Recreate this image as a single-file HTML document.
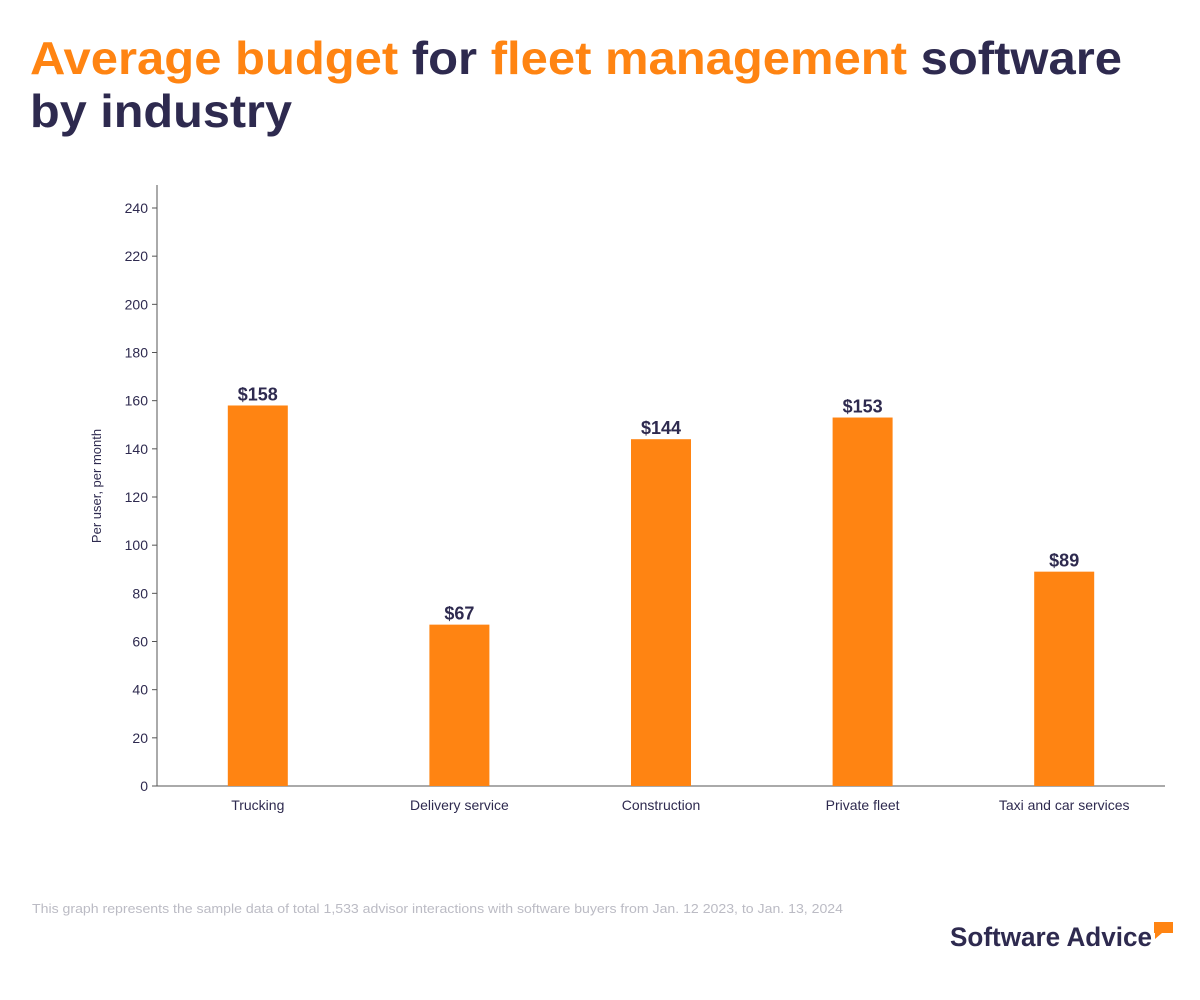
<!DOCTYPE html>
<html><head><meta charset="utf-8"><style>
body{margin:0;background:#fff;}
svg{display:block;font-family:"Liberation Sans",sans-serif;}
</style></head><body>
<svg id="chart" width="1200" height="1000" viewBox="0 0 1200 1000">
<text x="30" y="74" font-size="46" font-weight="bold" textLength="1092" lengthAdjust="spacingAndGlyphs"><tspan fill="#FF8412">Average budget</tspan><tspan fill="#2E2A4F"> for </tspan><tspan fill="#FF8412">fleet management</tspan><tspan fill="#2E2A4F"> software</tspan></text>
<text x="30" y="127" font-size="46" font-weight="bold" fill="#2E2A4F" textLength="262" lengthAdjust="spacingAndGlyphs">by industry</text>
<g id="axes"></g>
<g id="bars"></g>
<text transform="translate(101,486) rotate(-90)" text-anchor="middle" font-size="13" fill="#2E2A4F">Per user, per month</text>
<text x="32" y="913" font-size="12.5" fill="#BBBBC4" textLength="811" lengthAdjust="spacingAndGlyphs">This graph represents the sample data of total 1,533 advisor interactions with software buyers from Jan. 12 2023, to Jan. 13, 2024</text>
<text x="950" y="946" font-size="27" font-weight="bold" fill="#2E2A4F" textLength="202" lengthAdjust="spacingAndGlyphs">Software Advice</text>
<path d="M1154,922 h19 v11 h-11 l-7,6 v-6 h-1 z" fill="#FF8412"/>
</svg>
<script>
const categories=["Trucking","Delivery service","Construction","Private fleet","Taxi and car services"];
const values=[158,67,144,153,89];
const valueLabels=["$158","$67","$144","$153","$89"];
const yTicks=[0,20,40,60,80,100,120,140,160,180,200,220,240];
const NS="http://www.w3.org/2000/svg";
const x0=157,x1=1165,yBase=786,yTop=208,maxV=240;
const y=v=>yBase-(v/maxV)*(yBase-yTop);
const band=(x1-x0)/categories.length;
const xc=i=>x0+band*(i+0.5);
function mk(tag,attrs,parent){const e=document.createElementNS(NS,tag);for(const k in attrs)e.setAttribute(k,attrs[k]);parent.appendChild(e);return e;}
const axes=document.getElementById('axes'),bars=document.getElementById('bars');
let l=mk('line',{x1:x0,y1:185,x2:x0,y2:yBase,stroke:'#555',"stroke-width":1},axes);


l=mk('line',{x1:x0,y1:yBase,x2:x1,y2:yBase,stroke:'#555',"stroke-width":1},axes);


yTicks.forEach(t=>{
  const tk=mk('line',{x1:x0-5,y1:y(t),x2:x0,y2:y(t),stroke:'#555'},axes);
  
  
  const tx=mk('text',{x:x0-9,y:y(t)+5,"text-anchor":"end","font-size":14,fill:'#2E2A4F'},axes);
  tx.textContent=t;
  
  
});
categories.forEach((c,i)=>{
  const bw=60;
  const r=mk('rect',{x:xc(i)-bw/2,y:y(values[i]),width:bw,height:yBase-y(values[i]),fill:'#FF8412'},bars);
  
  
  const vl=mk('text',{x:xc(i),y:y(values[i])-5,"text-anchor":"middle","font-size":18,"font-weight":"bold",fill:'#2E2A4F'},bars);
  vl.textContent=valueLabels[i];
  
  
  const cl=mk('text',{x:xc(i),y:yBase+24,"text-anchor":"middle","font-size":14,fill:'#2E2A4F'},bars);
  cl.textContent=c;
  
  
});
</script>
</body></html>
